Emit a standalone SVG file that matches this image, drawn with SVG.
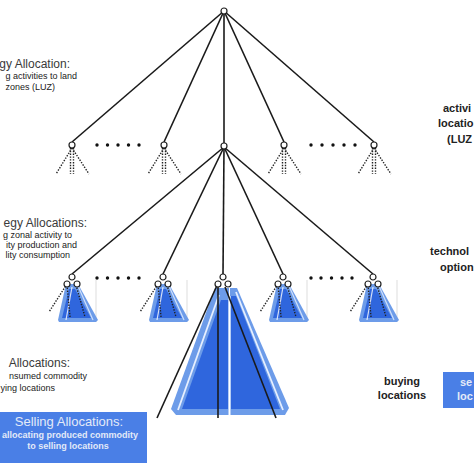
<svg xmlns="http://www.w3.org/2000/svg" xmlns:xlink="http://www.w3.org/1999/xlink" width="474" height="474" viewBox="0 0 474 474">
<style>
.edge{stroke:#1a1a1a;stroke-width:1.6;fill:none}
.dot{stroke:#222;stroke-width:1.4;stroke-dasharray:1.4 1.4;fill:none}
.node{fill:#fff;stroke:#222;stroke-width:1.2}
.ell{fill:#111}
.h{font-family:"Liberation Sans",Arial,sans-serif;font-size:12px;fill:#3a3a3a}
.s{font-family:"Liberation Sans",Arial,sans-serif;font-size:9px;fill:#222}
.r{font-family:"Liberation Sans",Arial,sans-serif;font-size:11px;font-weight:bold;fill:#222}
.w{font-family:"Liberation Sans",Arial,sans-serif;fill:#e3eaf8}
.lb{fill:#6d9ce9}
.db{fill:#2f66dd}
</style>
<defs>
<g id="legs">
<line class="dot" x1="0" y1="3" x2="-16" y2="29"/>
<line class="dot" x1="-1.5" y1="3" x2="-1.5" y2="29"/>
<line class="dot" x1="1.5" y1="3" x2="1.5" y2="29"/>
<line class="dot" x1="0" y1="3" x2="17" y2="29"/>
</g>
<g id="tri">
<line x1="24" y1="3" x2="24" y2="45" stroke="#d4d4d4" stroke-width="0.8"/>
<path class="lb" d="M-6,7 L6,7 L26,43 L24,45 L-13,45 L-14,43 Z"/>
<path class="db" d="M-3,12 L3,12 L19,41 L-10,41 Z"/>
<line x1="0" y1="10" x2="-6" y2="43" stroke="#fff" stroke-width="1.2" stroke-opacity="0.8"/>
<line x1="6" y1="9" x2="21" y2="43" stroke="#cfe0fb" stroke-width="1.2"/>
<line class="dot" x1="-5" y1="7" x2="-23" y2="35"/>
<line class="dot" x1="-5" y1="8" x2="-2" y2="40" stroke="#123"/>
<line class="dot" x1="4" y1="8" x2="13" y2="40" stroke="#123"/>
</g>
<g id="cluster">
<circle class="node" cx="-5" cy="7" r="3"/>
<circle class="node" cx="5" cy="7" r="3"/>
<circle class="node" cx="0" cy="0" r="3"/>
</g>
</defs>

<g id="connectors">
<line class="edge" x1="224" y1="11" x2="72" y2="142"/>
<line class="edge" x1="224" y1="11" x2="164" y2="142"/>
<line class="edge" x1="224" y1="11" x2="224" y2="143"/>
<line class="edge" x1="224" y1="11" x2="284" y2="142"/>
<line class="edge" x1="224" y1="11" x2="374" y2="142"/>
<line class="edge" x1="224" y1="147" x2="72" y2="274"/>
<line class="edge" x1="224" y1="147" x2="163" y2="274"/>
<line class="edge" x1="224" y1="147" x2="223" y2="274"/>
<line class="edge" x1="224" y1="147" x2="283" y2="274"/>
<line class="edge" x1="224" y1="147" x2="373" y2="274"/>
</g>

<g id="ellipses">
<circle class="ell" cx="97" cy="145" r="1.7"/><circle class="ell" cx="107.5" cy="145" r="1.7"/><circle class="ell" cx="118" cy="145" r="1.7"/><circle class="ell" cx="128.5" cy="145" r="1.7"/><circle class="ell" cx="139" cy="145" r="1.7"/>
<circle class="ell" cx="311" cy="145" r="1.7"/><circle class="ell" cx="322" cy="145" r="1.7"/><circle class="ell" cx="333" cy="145" r="1.7"/><circle class="ell" cx="344" cy="145" r="1.7"/><circle class="ell" cx="355" cy="145" r="1.7"/>
<circle class="ell" cx="97" cy="278" r="1.7"/><circle class="ell" cx="107.5" cy="278" r="1.7"/><circle class="ell" cx="118" cy="278" r="1.7"/><circle class="ell" cx="128.5" cy="278" r="1.7"/><circle class="ell" cx="139" cy="278" r="1.7"/>
<circle class="ell" cx="311" cy="278" r="1.7"/><circle class="ell" cx="321" cy="278" r="1.7"/><circle class="ell" cx="331.5" cy="278" r="1.7"/><circle class="ell" cx="342" cy="278" r="1.7"/><circle class="ell" cx="352" cy="278" r="1.7"/>
</g>

<g id="root"><circle class="node" cx="224" cy="11" r="3"/></g>

<g id="l2a"><use xlink:href="#legs" x="72" y="145"/><circle class="node" cx="72" cy="145" r="3"/></g>
<g id="l2b"><use xlink:href="#legs" x="164" y="145"/><circle class="node" cx="164" cy="145" r="3"/></g>
<g id="l2c"><circle class="node" cx="224" cy="146" r="3"/></g>
<g id="l2d"><use xlink:href="#legs" x="284" y="145"/><circle class="node" cx="284" cy="145" r="3"/></g>
<g id="l2e"><use xlink:href="#legs" x="374" y="145"/><circle class="node" cx="374" cy="145" r="3"/></g>

<g id="l3a"><use xlink:href="#tri" x="72" y="277"/><use xlink:href="#cluster" x="72" y="277"/></g>
<g id="l3b"><use xlink:href="#tri" x="163" y="277"/><use xlink:href="#cluster" x="163" y="277"/></g>
<g id="l3d"><use xlink:href="#tri" x="283" y="277"/><use xlink:href="#cluster" x="283" y="277"/></g>
<g id="l3e"><use xlink:href="#tri" x="373" y="277"/><use xlink:href="#cluster" x="373" y="277"/></g>

<g id="l3c">
<path class="lb" d="M215,288 L229,288 L229,415 L176,415 L171,409 Z"/>
<path class="lb" d="M230,288 L237,288 L289,408 L285,415 L230,415 Z"/>
<path class="db" d="M221,300 L228,300 L228,409 L182,409 Z"/>
<path class="db" d="M231,296 L236,296 L280,409 L231,409 Z"/>
<line x1="219" y1="295" x2="178" y2="410" stroke="#e6efff" stroke-width="1.8"/>
<line x1="236" y1="292" x2="283" y2="410" stroke="#e6efff" stroke-width="1.8"/>
<line x1="229.5" y1="296" x2="229.5" y2="415" stroke="#fff" stroke-width="2"/>
<line class="edge" x1="219" y1="281" x2="157" y2="418" stroke-width="1.3"/>
<line class="edge" x1="218" y1="287" x2="218" y2="418" stroke-width="1.3"/>
<line class="edge" x1="225" y1="287" x2="276" y2="418" stroke-width="1.3"/>
<use xlink:href="#cluster" x="223" y="277"/>
</g>

<g id="label-activity" text-anchor="end">
<text class="h" x="70" y="68">gy Allocation:</text>
<text class="s" x="77" y="79">g activities to land</text>
<text class="s" x="55" y="90">zones (LUZ)</text>
</g>
<g id="label-technology" text-anchor="end">
<text class="h" x="87" y="227">egy Allocations:</text>
<text class="s" x="72" y="238">g zonal activity to</text>
<text class="s" x="77" y="248">ity production and</text>
<text class="s" x="70" y="258">lity consumption</text>
</g>
<g id="label-buying" text-anchor="end">
<text class="h" x="70" y="367">Allocations:</text>
<text class="s" x="87" y="379">nsumed commodity</text>
<text class="s" x="55" y="391">ying locations</text>
</g>
<g id="selling-box">
<rect x="0" y="412" width="147" height="51" fill="#4a7fe6"/>
<text class="w" x="69" y="426" text-anchor="middle" font-size="13">Selling Allocations:</text>
<text class="w" x="70" y="438" text-anchor="middle" font-size="9" font-weight="bold">allocating produced commodity</text>
<text class="w" x="68" y="449" text-anchor="middle" font-size="9" font-weight="bold">to selling locations</text>
</g>

<g id="right-labels">
<text class="r" x="443" y="112">activi</text>
<text class="r" x="438" y="127">locatio</text>
<text class="r" x="447" y="143">(LUZ</text>
<text class="r" x="430" y="255">technol</text>
<text class="r" x="440" y="271" font-size="10.5">option</text>
<text class="r" x="402" y="385" text-anchor="middle">buying</text>
<text class="r" x="402" y="399" text-anchor="middle">locations</text>
</g>
<g id="selling-locations-box">
<rect x="443" y="372" width="31" height="36" fill="#4a7fe6"/>
<text class="w" x="460" y="386" font-size="11" font-weight="bold">se</text>
<text class="w" x="457" y="400" font-size="11" font-weight="bold">loc</text>
</g>
</svg>
